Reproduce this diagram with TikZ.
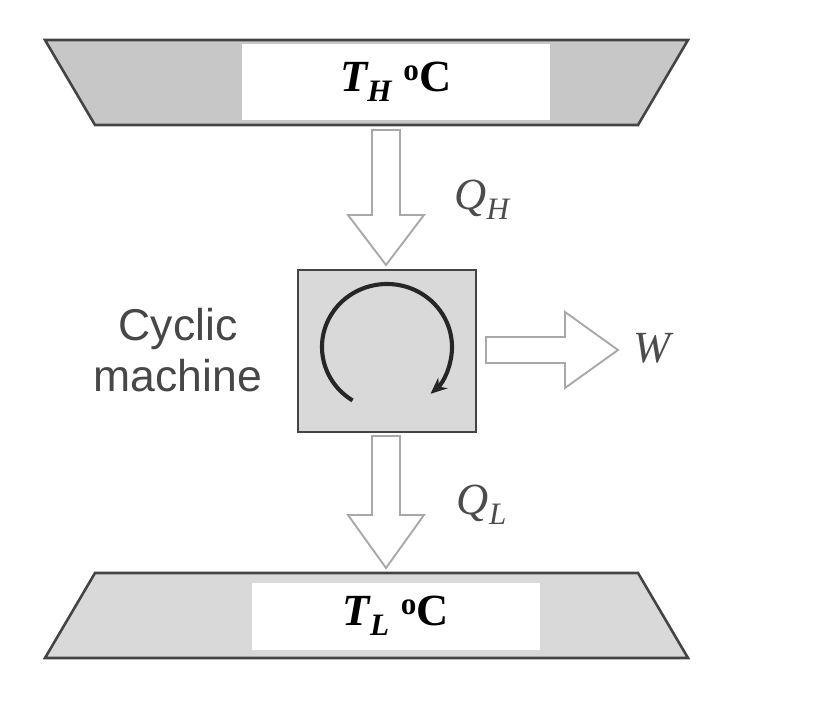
\documentclass[tikz,border=0pt]{standalone}
\usepackage{fontspec}
\setmainfont{Liberation Serif}
\setsansfont{Liberation Sans}
\usetikzlibrary{arrows.meta}
\definecolor{edge}{HTML}{444444}
\definecolor{arr}{HTML}{A8A8A8}
\tikzset{
  res/.style={draw=edge,line width=2.2pt},
  hollow/.style={draw=arr,fill=white,line width=1.6pt,line join=miter},
  lab/.style={font=\fontsize{38}{40}\selectfont\itshape,text=black!70},
}
\begin{document}
\begin{tikzpicture}[x=0.03cm,y=-0.03cm]
\useasboundingbox (0,0) rectangle (820,702);
% top reservoir
\draw[res,fill=black!22] (45,40) -- (688,40) -- (638,125) -- (95,125) -- cycle;
\node[fill=white,minimum width=308*0.03cm,minimum height=75*0.03cm] (th) at (396,82)
  {\fontsize{38}{40}\selectfont\bfseries\textit{T\textsubscript{H}} \textsuperscript{o}C};
% bottom reservoir
\draw[res,fill=black!15] (95,573) -- (638,573) -- (688,658) -- (45,658) -- cycle;
\node[fill=white,minimum width=288*0.03cm,minimum height=67*0.03cm] (tl) at (396,616)
  {\fontsize{38}{40}\selectfont\bfseries\textit{T\textsubscript{L}} \textsuperscript{o}C};
% machine
\node[draw=edge,fill=black!15,line width=1.6pt,minimum width=178*0.03cm,minimum height=162*0.03cm] (m) at (387,351) {};
\coordinate (cc) at (387,347);
\draw[line width=3.5pt,black!85,-{Stealth[length=14pt,width=12pt]}]
  ([shift={(122:65 and 63)}]cc) arc[start angle=122,end angle=408,x radius=65,y radius=63];
% arrows
\draw[hollow] (372,130) -- (400,130) -- (400,215) -- (424,215) -- (386,265) -- (348,215) -- (372,215) -- cycle;
\draw[hollow] (372,436) -- (400,436) -- (400,515) -- (424,515) -- (386,568) -- (348,515) -- (372,515) -- cycle;
\draw[hollow] (486,337) -- (565,337) -- (565,312) -- (618,350) -- (565,388) -- (565,363) -- (486,363) -- cycle;
% labels
\node[lab] (qh) at (482,200) {Q\textsubscript{H}};
\node[lab] (ql) at (482,505) {Q\textsubscript{L}};
\node[lab] (w) at (652,348) {W};
\node[font=\sffamily\fontsize{38}{43}\selectfont,text=black!72,align=center] (cm) at (178,350) {Cyclic\\machine};
\end{tikzpicture}
\end{document}
